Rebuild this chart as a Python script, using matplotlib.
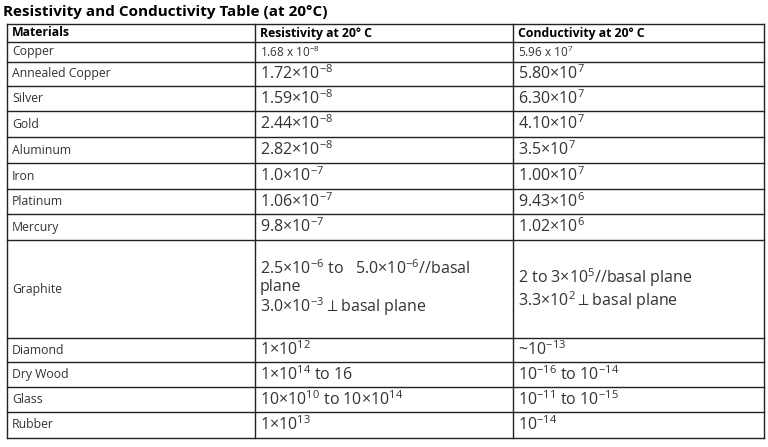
import matplotlib
matplotlib.use("Agg")
import matplotlib.pyplot as plt

plt.rcParams["font.family"] = ["Open Sans", "DejaVu Sans"]
plt.rcParams["mathtext.fontset"] = "custom"
plt.rcParams["mathtext.rm"] = "Open Sans"
plt.rcParams["mathtext.it"] = "Open Sans"
plt.rcParams["mathtext.default"] = "regular"

title = "Resistivity and Conductivity Table (at 20°C)"
headers = ["Materials", "Resistivity at 20° C", "Conductivity at 20° C"]
materials = ["Copper", "Annealed Copper", "Silver", "Gold", "Aluminum", "Iron",
             "Platinum", "Mercury", "Graphite", "Diamond", "Dry Wood", "Glass", "Rubber"]
resistivity = [
    r"1.68 x 10$^{-8}$", r"1.72×10$^{-8}$", r"1.59×10$^{-8}$", r"2.44×10$^{-8}$",
    r"2.82×10$^{-8}$", r"1.0×10$^{-7}$", r"1.06×10$^{-7}$", r"9.8×10$^{-7}$",
    "2.5×10$^{-6}$ to   5.0×10$^{-6}$//basal\nplane\n3.0×10$^{-3}$$\\perp$basal plane",
    r"1×10$^{12}$", r"1×10$^{14}$ to 16", r"10×10$^{10}$ to 10×10$^{14}$", r"1×10$^{13}$",
]
conductivity = [
    r"5.96 x 10$^{7}$", r"5.80×10$^{7}$", r"6.30×10$^{7}$", r"4.10×10$^{7}$",
    r"3.5×10$^{7}$", r"1.00×10$^{7}$", r"9.43×10$^{6}$", r"1.02×10$^{6}$",
    "2 to 3×10$^{5}$//basal plane\n3.3×10$^{2}$$\\perp$basal plane",
    r"~10$^{-13}$", r"10$^{-16}$ to 10$^{-14}$", r"10$^{-11}$ to 10$^{-15}$", r"10$^{-14}$",
]

# layout (pixels)
col_x = [7, 255, 513, 764]
row_y = [24, 42, 62, 86, 111, 137, 163, 189, 214, 240, 338, 362, 387, 412, 438]

fig = plt.figure(figsize=(7.68, 4.47), dpi=100)
ax = fig.add_axes([0, 0, 1, 1])
ax.set_xlim(0, 768)
ax.set_ylim(447, 0)
ax.axis("off")

ax.text(3, 12, title, fontsize=11, fontweight="bold", va="center", ha="left")

for y in row_y:
    ax.plot([col_x[0], col_x[-1]], [y, y], color="#222222", lw=1)
for x in col_x:
    ax.plot([x, x], [row_y[0], row_y[-1]], color="#222222", lw=1)

for j, h in enumerate(headers):
    ax.text(col_x[j] + 5, (row_y[0] + row_y[1]) / 2, h, fontsize=8.8,
            fontweight="bold", va="center", ha="left")

for i, m in enumerate(materials):
    yc = (row_y[i + 1] + row_y[i + 2]) / 2
    small = i == 0
    ax.text(col_x[0] + 5, yc, m, fontsize=8.8, color="#333333", va="center", ha="left")
    ax.text(col_x[1] + 5, yc, resistivity[i], fontsize=8.5 if small else 11.5,
            color="#333333", va="center", ha="left", linespacing=1.05)
    ax.text(col_x[2] + 5, yc, conductivity[i], fontsize=8.5 if small else 11.5,
            color="#333333", va="center", ha="left", linespacing=1.05)

fig.savefig("out.png", dpi=100)
